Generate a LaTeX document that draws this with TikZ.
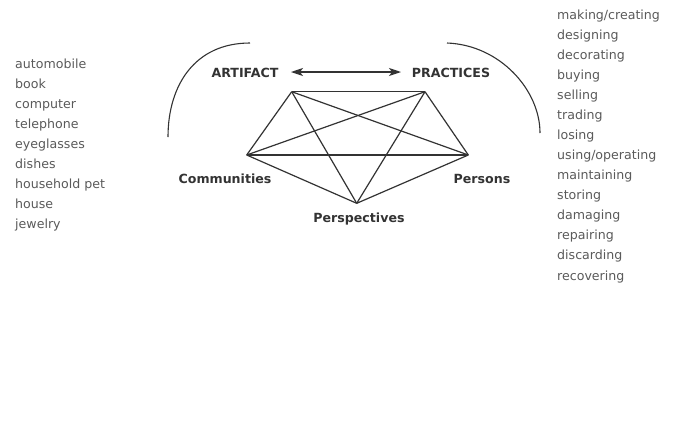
\documentclass[tikz,border=0pt]{standalone}
\usepackage{fontspec}
\setmainfont{DejaVu Sans}
\usetikzlibrary{arrows.meta}
\definecolor{ink}{HTML}{333333}
\definecolor{listc}{HTML}{5a5a5a}
\tikzset{
  lbl/.style={font=\fontsize{12.6}{14}\selectfont\bfseries, text=ink, anchor=base, inner sep=0pt},
  item/.style={font=\fontsize{12.6}{14}\selectfont, text=listc, anchor=base west, inner sep=0pt},
  edge/.style={draw=ink, line width=1.2pt},
  arc/.style={draw=ink, line width=1.1pt},
}
\begin{document}
\begin{tikzpicture}[x=1pt,y=-1pt]
\useasboundingbox[fill=white] (0,0) rectangle (698,432);
% pentagon vertices
\coordinate (tl) at (291.7,91.7);
\coordinate (tr) at (425,91.7);
\coordinate (le) at (246.7,155);
\coordinate (ri) at (468.3,155);
\coordinate (bo) at (356.7,203.3);
\foreach \a/\b in {tl/tr,tl/le,tl/ri,tl/bo,tr/le,tr/ri,tr/bo,le/ri,le/bo,ri/bo}
  \draw[edge] (\a) -- (\b);
% labels
\node[lbl] (art) at (245,77) {ARTIFACT};
\node[lbl] (prac) at (451,77) {PRACTICES};
\node[lbl] (comm) at (225,183) {Communities};
\node[lbl] (pers) at (482,183) {Persons};
\node[lbl] (persp) at (359,222.5) {Perspectives};
\coordinate (aL) at (291,72);
\coordinate (aR) at (401,72);
\draw[edge, {Stealth[length=12pt,width=8pt,inset=3pt]}-{Stealth[length=12pt,width=8pt,inset=3pt]}] (aL) -- (aR);
% arcs
\coordinate (la1) at (250,43);
\coordinate (la2) at (168,137);
\coordinate (ra1) at (447,43);
\coordinate (ra2) at (540,133);
\draw[arc] (la1) .. controls (195,43) and (168,85) .. (la2);
\draw[arc] (ra1) .. controls (500,45) and (540,90) .. (ra2);
% left list
\foreach \t [count=\i from 0] in {automobile,book,computer,telephone,eyeglasses,dishes,household pet,house,jewelry}
  \node[item] (L\i) at (15,68+20*\i) {\t};
% right list
\foreach \t [count=\i from 0] in {making/creating,designing,decorating,buying,selling,trading,losing,using/operating,maintaining,storing,damaging,repairing,discarding,recovering}
  \node[item] (R\i) at (557,19+20.08*\i) {\t};
\end{tikzpicture}
\end{document}
